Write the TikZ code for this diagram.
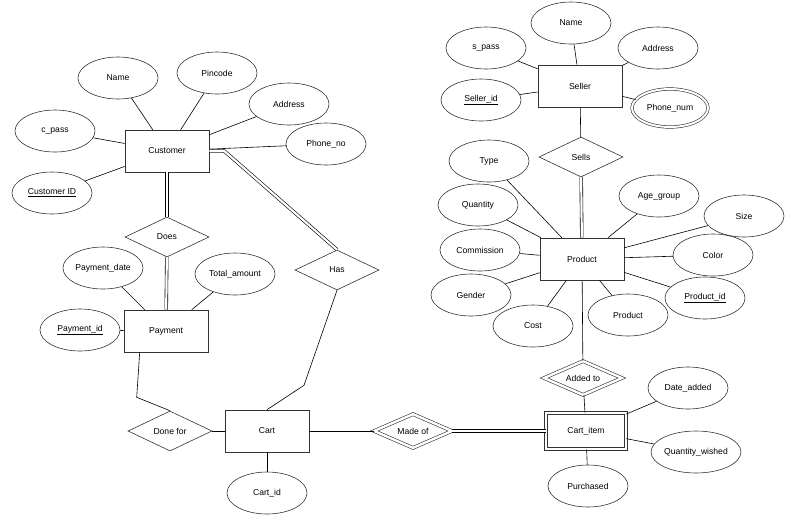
\documentclass[tikz,border=0pt]{standalone}
\usepackage{fontspec}
\setmainfont{Liberation Sans}
\usetikzlibrary{shapes.geometric}
\newcommand{\ul}[1]{\underline{#1}}
\begin{document}
\begin{tikzpicture}[
      x=1pt, y=-1pt, line width=0.6pt,
      every node/.style={font=\fontsize{8.6}{10}\selectfont, draw=black!80, inner sep=0pt},
      entity/.style={rectangle, minimum width=84pt, minimum height=42pt},
      weak/.style={entity, double, double distance=2.4pt, minimum width=80pt, minimum height=36pt},
      attr/.style={ellipse, minimum width=80pt, minimum height=42pt},
      rel/.style={diamond, aspect=2.1, minimum width=84pt, minimum height=40pt},
      wrel/.style={rel, double, double distance=2.4pt, minimum width=78pt, minimum height=34pt},
      dbl/.style={double, double distance=2.2pt}
    ]
      \useasboundingbox (0,0) rectangle (785,515);

      % Customer side
      \node[entity] (customer) at (167,151) {Customer};
      \node[attr] (cname) at (118,78) {Name};
      \node[attr] (pincode) at (217,73) {Pincode};
      \node[attr] (caddr) at (289,104) {Address};
      \node[attr] (phone) at (326,144) {Phone\_no};
      \node[attr] (cpass) at (55,131) {c\_pass};
      \node[attr] (cid) at (52,193) {\ul{Customer ID}};
      \node[rel] (does) at (167,237) {Does};
      \node[entity] (payment) at (166,331) {Payment};
      \node[attr] (pdate) at (103,268) {Payment\_date};
      \node[attr] (total) at (235,274) {Total\_amount};
      \node[attr] (pid) at (80,330) {\ul{Payment\_id}};
      \node[rel] (has) at (337,270) {Has};
      \node[rel] (donefor) at (170,431) {Done for};
      \node[entity] (cart) at (267,431) {Cart};
      \node[attr] (cartid) at (267,493) {Cart\_id};
      \node[wrel] (madeof) at (413,431) {Made of};

      % Seller side
      \node[entity] (seller) at (580,86) {Seller};
      \node[attr] (sname) at (571,23) {Name};
      \node[attr] (spass) at (486,48) {s\_pass};
      \node[attr] (saddr) at (658,48) {Address};
      \node[attr] (sid) at (481,100) {\ul{Seller\_id}};
      \node[attr, double, double distance=2pt, minimum width=76pt, minimum height=38pt] (sphone) at (670,108) {Phone\_num};
      \node[rel] (sells) at (581,157) {Sells};
      \node[entity] (product) at (582,259) {Product};
      \node[attr] (type) at (489,161) {Type};
      \node[attr] (qty) at (478,205) {Quantity};
      \node[attr] (comm) at (480,250) {Commission};
      \node[attr] (gender) at (471,295) {Gender};
      \node[attr] (cost) at (533,326) {Cost};
      \node[attr] (pname) at (628,315) {Product};
      \node[attr] (prodid) at (705,298) {\ul{Product\_id}};
      \node[attr] (color) at (713,255) {Color};
      \node[attr] (size) at (744,216) {Size};
      \node[attr] (age) at (659,196) {Age\_group};
      \node[wrel] (added) at (583,378) {Added to};
      \node[weak] (item) at (586,431) {Cart\_item};
      \node[attr] (dadded) at (688,388) {Date\_added};
      \node[attr] (qwish) at (696,452) {Quantity\_wished};
      \node[attr] (purch) at (588,486) {Purchased};

      % attribute links
      \foreach \a in {cname,pincode,caddr,phone,cpass,cid}
        \draw (customer) -- (\a);
      \foreach \a in {pdate,total,pid}
        \draw (payment) -- (\a);
      \foreach \a in {sname,spass,saddr,sid,sphone}
        \draw (seller) -- (\a);
      \foreach \a in {type,qty,comm,gender,cost,pname,prodid,color,size,age}
        \draw (product) -- (\a);
      \foreach \a in {dadded,qwish,purch}
        \draw (item) -- (\a);
      \draw (cart) -- (cartid);

      % relationships
      \draw[dbl] (customer) -- (does);
      \draw[dbl] (does) -- (payment);
      \draw[dbl] (customer.east) -- ++(15,0) -- (has.north);
      \draw (has.south) -- ++(-33,95) -- (cart.north);
      \draw (payment.south west) ++(16,0) -- ++(-3,45) -- (donefor.north);
      \draw (donefor) -- (cart);
      \draw (cart) -- (madeof);
      \draw[dbl] (madeof) -- (item);
      \draw[dbl] (product) -- (sells);
      \draw (sells) -- (seller);
      \draw (product) -- (added);
      \draw (added) -- (item);
    \end{tikzpicture}
\end{document}
